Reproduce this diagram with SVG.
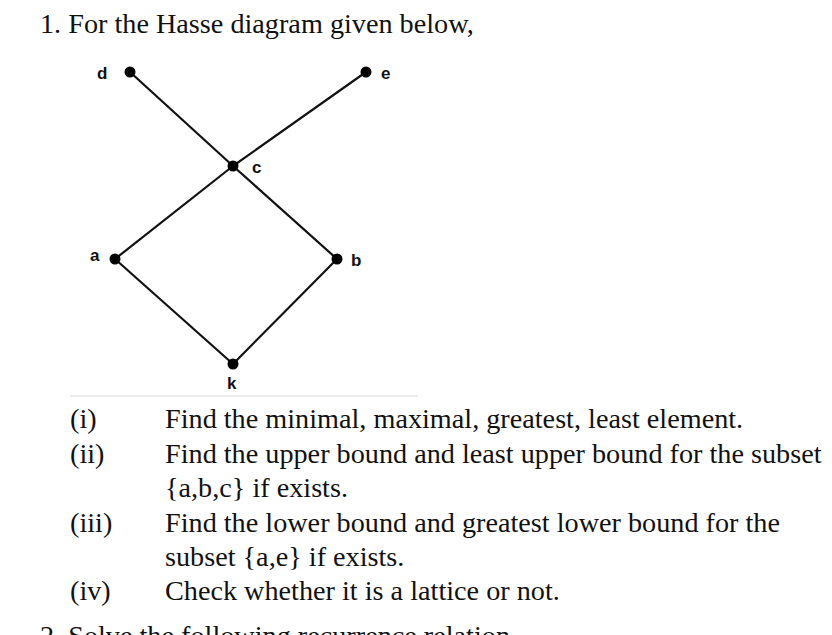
<svg xmlns="http://www.w3.org/2000/svg" width="832" height="635" viewBox="0 0 832 635">
<style>
.t{font-family:"Liberation Serif",serif;font-size:27px;fill:#111}
.l{font-family:"Liberation Sans",Arial,sans-serif;font-size:17px;font-weight:bold;fill:#111}
.e{stroke:#111;stroke-width:2.2}
</style>
<rect width="832" height="635" fill="#fff"/>
<line x1="70" y1="396" x2="418" y2="396" stroke="#e4e4e4" stroke-width="1.5"/>
<g id="edges">
<line class="e" x1="130" y1="72" x2="233" y2="166"/>
<line class="e" x1="366" y1="72" x2="233" y2="166"/>
<line class="e" x1="233" y1="166" x2="115" y2="259"/>
<line class="e" x1="233" y1="166" x2="337" y2="259"/>
<line class="e" x1="115" y1="259" x2="233" y2="364"/>
<line class="e" x1="337" y1="259" x2="233" y2="364"/>
</g>
<g id="d"><circle cx="130" cy="72" r="5.5"/><text class="l" x="97" y="79">d</text></g>
<g id="e"><circle cx="366" cy="72" r="5.5"/><text class="l" x="381" y="79">e</text></g>
<g id="c"><circle cx="233" cy="166" r="5.5"/><text class="l" x="252" y="173">c</text></g>
<g id="a"><circle cx="115" cy="259" r="5.5"/><text class="l" x="90" y="261">a</text></g>
<g id="b"><circle cx="337" cy="259" r="5.5"/><text class="l" x="351" y="266">b</text></g>
<g id="k"><circle cx="233" cy="364" r="5.5"/><text class="l" x="227" y="389">k</text></g>
<g transform="scale(1.045 1)">
<text class="t" x="38.3" y="33">1. For the Hasse diagram given below,</text>
<text class="t" x="67" y="428">(i)</text>
<text class="t" x="157.9" y="428">Find the minimal, maximal, greatest, least element.</text>
<text class="t" x="67" y="463">(ii)</text>
<text class="t" x="157.9" y="463">Find the upper bound and least upper bound for the subset</text>
<text class="t" x="157.9" y="497">{a,b,c} if exists.</text>
<text class="t" x="67" y="532">(iii)</text>
<text class="t" x="157.9" y="532">Find the lower bound and greatest lower bound for the</text>
<text class="t" x="157.9" y="566">subset {a,e} if exists.</text>
<text class="t" x="67" y="600">(iv)</text>
<text class="t" x="157.9" y="600">Check whether it is a lattice or not.</text>
<text class="t" x="38.3" y="645">2. Solve the following recurrence relation</text>
</g>
</svg>
